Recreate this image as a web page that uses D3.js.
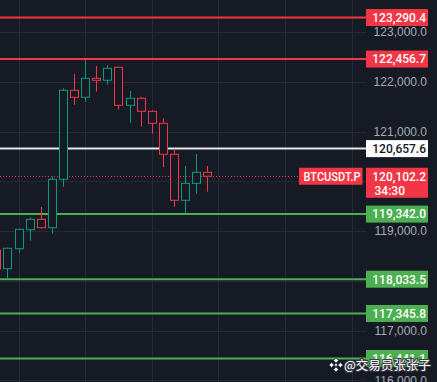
<!DOCTYPE html>
<html>
<head>
<meta charset="utf-8">
<script src="https://cdn.jsdelivr.net/npm/d3@7"></script>
<style>
  html, body { margin: 0; padding: 0; background: #161a25; }
  svg { display: block; }
</style>
</head>
<body>
<div id="chart"></div>
<script>
// candles, 15m BTCUSDT.P, first one is cut off at the left edge
let opens  = [118620, 118245, 118647, 119028, 119237, 119068, 120041, 121829, 121688, 122070,
              122030, 122291, 121527, 121668, 121407, 121166, 120543, 119619, 119960, 120181]
let highs  = [118700, 118670, 119040, 119277, 119484, 120093, 121869, 122156, 122437, 122317,
              122337, 122300, 121815, 121694, 121427, 121266, 120650, 120308, 120549, 120308]
let lows   = [118180, 118040, 118566, 118807, 119048, 118948, 119892, 121539, 121600, 121801,
              121941, 121439, 121178, 121097, 120957, 120282, 119490, 119358, 119751, 119792]
let closes = [118239, 118655, 119036, 119237, 119068, 120041, 121829, 121688, 122070, 122030,
              122271, 121527, 121668, 121407, 121166, 120543, 119619, 119960, 120181, 120102.2]

// horizontal levels drawn on the chart
let levels     = [123290.4, 122456.7, 120657.6, 119342.0, 118033.5, 117345.8, 116441.1]
let levelKinds = ["resist", "resist", "pivot", "support", "support", "support", "support"]

let priceTicks = [116000, 117000, 118000, 119000, 120000, 121000, 122000, 123000]
let timeGrid   = [2, 8, 14, 20, 26, 32]   // candle slots with a vertical grid line

let symbol = "BTCUSDT.P"
let countdown = "34:30"

const W = 437, H = 382
const plotRight = 366
const font = "'Liberation Sans', Arial, sans-serif"
const tagFont = "Roboto, 'Liberation Sans', sans-serif"
const up = "#089981", down = "#f23645", bg = "#161a25"
const kindColor = { resist: "#f23645", pivot: "#e6e8ee", support: "#4caf50" }
const fmt = d3.format(",.1f")

let svg = d3.select("#chart")
  .append("svg")
  .attr("width", W)
  .attr("height", H)
  .style("font-family", font)

svg.append("rect").attr("width", W).attr("height", H).attr("fill", bg)

let x = d3.scaleLinear().domain([2, 32]).range([18.5, 351.8])
let y = d3.scaleLinear().domain([123000, 116000]).range([32, 32 + 7 * 49.78])

// grid
svg.append("g")
  .selectAll("line.v")
  .data(timeGrid)
  .join("line")
  .attr("x1", d => Math.round(x(d)) + 0.5)
  .attr("x2", d => Math.round(x(d)) + 0.5)
  .attr("y1", 0).attr("y2", H)
  .attr("stroke", "#252936")

svg.append("g")
  .selectAll("line.h")
  .data(priceTicks)
  .join("line")
  .attr("x1", 0).attr("x2", plotRight)
  .attr("y1", d => Math.round(y(d)) + 0.5)
  .attr("y2", d => Math.round(y(d)) + 0.5)
  .attr("stroke", "#252936")

// price axis labels
let axis = svg.append("g")
  .attr("transform", "translate(427,0)")
  .call(d3.axisLeft(y).tickValues(priceTicks).tickFormat(fmt).tickSize(0).tickPadding(0))
axis.select(".domain").remove()
axis.selectAll("text")
  .attr("fill", "#a7aab3")
  .style("font-size", "12px")
  .style("font-family", font)

// levels
svg.append("g")
  .selectAll("line")
  .data(levels)
  .join("line")
  .attr("x1", 0).attr("x2", plotRight)
  .attr("y1", d => y(d)).attr("y2", d => y(d))
  .attr("stroke", (d, i) => kindColor[levelKinds[i]])
  .attr("stroke-width", 2)

// last price dotted line
let last = closes[closes.length - 1]
svg.append("line")
  .attr("x1", 0).attr("x2", 299)
  .attr("y1", Math.round(y(last)) + 0.5).attr("y2", Math.round(y(last)) + 0.5)
  .attr("stroke", down)
  .attr("stroke-dasharray", "1,2")

// candles
let candles = svg.append("g")
  .selectAll("g")
  .data(opens.map((o, i) => ({ i, o, h: highs[i], l: lows[i], c: closes[i] })))
  .join("g")

candles.append("line")
  .attr("x1", d => Math.round(x(d.i)) + 0.5)
  .attr("x2", d => Math.round(x(d.i)) + 0.5)
  .attr("y1", d => y(d.h)).attr("y2", d => y(d.l))
  .attr("stroke", d => d.c >= d.o ? up : down)

candles.append("rect")
  .attr("x", d => Math.round(x(d.i)) - 3.5)
  .attr("width", 8)
  .attr("y", d => y(Math.max(d.o, d.c)))
  .attr("height", d => Math.max(1, y(Math.min(d.o, d.c)) - y(Math.max(d.o, d.c))))
  .attr("fill", bg)
  .attr("stroke", d => d.c >= d.o ? up : down)

// level labels
let tags = svg.append("g")
  .selectAll("g")
  .data(levels)
  .join("g")
  .attr("transform", d => `translate(0,${y(d)})`)

tags.append("rect")
  .attr("x", plotRight).attr("y", -8.5)
  .attr("width", 62).attr("height", 17)
  .attr("fill", (d, i) => levelKinds[i] == "pivot" ? "#ffffff" : kindColor[levelKinds[i]])

tags.append("text")
  .attr("x", 426).attr("dy", "0.36em")
  .attr("text-anchor", "end")
  .style("font-size", "12px").style("font-family", tagFont).style("font-weight", 500)
  .attr("fill", (d, i) => levelKinds[i] == "pivot" ? "#131722" : "#ffffff")
  .text(d => fmt(d))

// last price label with countdown
let ly = y(last)
svg.append("rect")
  .attr("x", plotRight).attr("y", ly - 8.5)
  .attr("width", 62).attr("height", 30)
  .attr("fill", down)
svg.append("text")
  .attr("x", 426).attr("y", ly).attr("dy", "0.36em")
  .attr("text-anchor", "end")
  .attr("fill", "#fff")
  .style("font-size", "12px").style("font-family", tagFont).style("font-weight", 500)
  .text(fmt(last))
svg.append("text")
  .attr("x", 374.5).attr("y", ly + 14).attr("dy", "0.36em")
  .attr("fill", "#fff")
  .style("font-size", "12px").style("font-family", tagFont).style("font-weight", 500)
  .text(countdown)

svg.append("rect")
  .attr("x", 299).attr("y", ly - 8.5)
  .attr("width", 63.5).attr("height", 17)
  .attr("fill", down)
svg.append("text")
  .attr("x", 303.5).attr("y", ly).attr("dy", "0.36em")
  .attr("fill", "#fff")
  .style("font-size", "12px").style("font-family", tagFont).style("font-weight", 500)
  .attr("textLength", 57).attr("lengthAdjust", "spacingAndGlyphs")
  .text(symbol)

// watermark
let wm = svg.append("g").attr("transform", "translate(336,365)")
let diamonds = [[0, -4.4, 1.7], [0, 4.4, 1.7], [-4.4, 0, 1.7], [4.4, 0, 1.7], [0, 0, 1.2]]
wm.selectAll("rect")
  .data(diamonds)
  .join("rect")
  .attr("x", d => d[0] - d[2]).attr("y", d => d[1] - d[2])
  .attr("width", d => d[2] * 2).attr("height", d => d[2] * 2)
  .attr("transform", d => `rotate(45,${d[0]},${d[1]})`)
  .attr("fill", "#fff").attr("stroke", "#3a3d45").attr("stroke-width", 0.8)
wm.append("text")
  .attr("x", 8).attr("dy", "0.36em")
  .style("font-family", "'Noto Sans CJK SC', sans-serif")
  .style("font-size", "12.5px")
  .attr("fill", "#fff")
  .attr("stroke", "#3a3d45").attr("stroke-width", 2)
  .attr("paint-order", "stroke")
  .text("@交易员张张子")
</script>
</body>
</html>
